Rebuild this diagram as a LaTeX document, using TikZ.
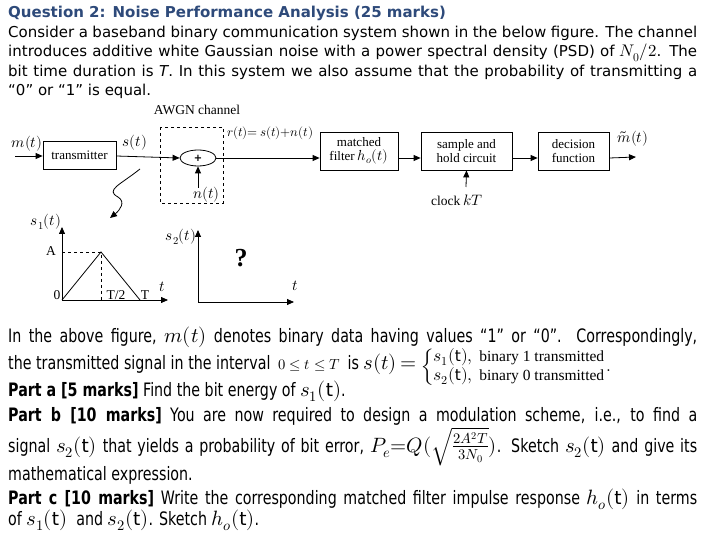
\documentclass[tikz,border=0pt]{standalone}
\usepackage{amsmath}
\usepackage{fontspec}
\usepackage{unicode-math}
\setmainfont{DejaVu Sans}
\setmathfont{Latin Modern Math}[Scale=1.12]
\newfontfamily\tnr{Liberation Serif}
\newfontfamily\cond[FakeStretch=0.77]{DejaVu Sans}
\usetikzlibrary{arrows.meta,shapes.geometric}
\definecolor{qblue}{HTML}{2E4A7A}
\begin{document}
\begin{tikzpicture}[x=1pt,y=-1pt,
  txt/.style={anchor=base west,inner sep=0pt,font=\fontsize{15}{16}\selectfont},
  ctxt/.style={anchor=base west,inner sep=0pt,font=\cond\fontsize{18.5}{19}\selectfont},
  blk/.style={draw,thick,minimum height=28pt,align=center,font=\tnr\fontsize{13}{13.5}\selectfont,inner sep=2pt},
  lab/.style={inner sep=0pt,font=\tnr\fontsize{13.5}{14}\selectfont},
  arr/.style={thick,-{Triangle[length=7pt,width=6pt]}},
  ln/.style={thick}]
\useasboundingbox (0,0) rectangle (705,540);
\fill[white] (0,0) rectangle (705,540);
% top text
\node[txt,font=\bfseries\fontsize{15}{16}\selectfont,text=qblue] (title) at (8,18) {Question 2: Noise Performance Analysis (25 marks)};
\node[txt] (l1) at (8,38) {\makebox[689pt][s]{Consider a baseband binary communication system shown in the below figure. The channel}};
\node[txt] (l2) at (8,57) {\makebox[689pt][s]{introduces additive white Gaussian noise with a power spectral density (PSD) of $N_0/2$. The}};
\node[txt] (l3) at (8,77) {\makebox[689pt][s]{bit time duration is \textit{T}. In this system we also assume that the probability of transmitting a}};
\node[txt] (l4) at (8,96) {“0” or “1” is equal.};
% block diagram
\node[lab] (awgn) at (197,110) {AWGN channel};
\draw[dashed,thick] (160,127) rectangle (223,203);
\coordinate (min) at (15,156);
\node[blk,minimum width=73pt] (tx) at (79.5,155) {transmitter};
\node[lab] (mt) at (27,144) {$m(t)$};
\node[lab] (st) at (135,143) {$s(t)$};
\node[draw,thick,ellipse,minimum width=36pt,minimum height=16pt,inner sep=0pt] (sum) at (198,158) {\textbf{+}};
\coordinate (nin) at (198,188);
\node[lab,anchor=west] (nt) at (193,195) {$n(t)$};
\node[lab,anchor=west,font=\tnr\fontsize{11.5}{12}\selectfont] (rt) at (227,133) {$r(t){=}\,s(t){+}n(t)$};
\node[blk,minimum width=78pt,minimum height=38pt] (mf) at (359,151) {matched\\filter $h_o(t)$};
\node[blk,minimum width=91pt,minimum height=38pt] (sh) at (466.5,151) {sample and\\hold circuit};
\node[blk,minimum width=71pt,minimum height=38pt] (dec) at (573.5,151) {decision\\function};
\coordinate (out) at (636,157);
\node[lab] (mh) at (633,139) {$\tilde{m}(t)$};
\coordinate (clk) at (466,187);
\node[lab] (ck) at (457,200) {clock $kT$};
\draw[arr] (min) -- (tx.west |- min);
\draw[arr] (tx.east |- min) -- (sum.west);
\draw[arr] (nin) -- (sum.south);
\draw[arr] (sum.east) -- (sum.east -| mf.west);
\draw[arr] (mf.east |- sum.east) -- (sh.west |- sum.east);
\draw[arr] (sh.east |- sum.east) -- (dec.west |- sum.east);
\draw[arr] (dec.east |- sum.east) -- (out);
\draw[arr] (clk) -- (sh.south);
% squiggle
\coordinate (sq1) at (140,169);
\coordinate (sq2) at (110,218);
\draw[arr] (sq1) .. controls (120,185) and (105,190) .. (118,197) .. controls (126,202) and (120,210) .. (sq2);
% s1 plot
\coordinate (o1) at (62,300);
\coordinate (y1) at (62,227);
\coordinate (x1) at (168,300);
\draw[arr] (o1) -- (y1);
\draw[arr] (o1) -- (x1);
\draw[ln] (o1) -- (101,252) -- (140,300);
\draw[dashed,thick] (62,252) -- (101,252) -- (101,300);
\node[lab] (s1l) at (46,222) {$s_1(t)$};
\node[lab] (al) at (51,251) {A};
\node[lab] (zl) at (57,295) {0};
\node[lab] (t2l) at (116,295) {T/2};
\node[lab] (tl) at (145,295) {T};
\node[lab] (txl) at (162,287) {$t$};
% s2 plot
\coordinate (o2) at (198,302);
\draw[arr] (o2) -- (198,230);
\draw[arr] (o2) -- (294,302);
\node[lab] (s2l) at (181,237) {$s_2(t)$};
\node[inner sep=0pt,font=\tnr\bfseries\fontsize{26}{26}\selectfont] (q) at (241,258) {?};
\node[lab] (tx2) at (295,286) {$t$};
% bottom text
\node[ctxt] (b1) at (8,343) {\makebox[689pt][s]{In the above figure, $m(t)$ denotes binary data having values “1” or “0”. Correspondingly,}};
\node[ctxt] (b2) at (8,370) {the transmitted signal in the interval \,{\normalfont\fontsize{13}{14}\selectfont$0\le t\le T$}\, is $s(t)\,{=}$};
\node[anchor=west,inner sep=0pt,font=\tnr\fontsize{15.5}{16}\selectfont] (cs) at (421,367) {$\begin{cases}s_1(\mathrm{t}),\ \text{binary 1 transmitted}\\ s_2(\mathrm{t}),\ \text{binary 0 transmitted}\end{cases}\!\!\!\!\!\!.$};
\node[ctxt] (b3) at (8,396) {\textbf{Part a [5 marks]} Find the bit energy of $s_1(\mathrm{t})$.};
\node[ctxt] (b4) at (8,421) {\makebox[689pt][s]{\textbf{Part b [10 marks]} You are now required to design a modulation scheme, i.e., to find a}};
\node[ctxt] (b5) at (8,452) {\makebox[689pt][s]{signal $s_2(\mathrm{t})$ that yields a probability of bit error, $P_e{=}Q(\sqrt{\frac{2A^2T}{3N_0}})$. Sketch $s_2(\mathrm{t})$ and give its}};
\node[ctxt] (b6) at (8,480) {mathematical expression.};
\node[ctxt] (b7) at (8,504) {\makebox[689pt][s]{\textbf{Part c [10 marks]} Write the corresponding matched filter impulse response $h_o(\mathrm{t})$ in terms}};
\node[ctxt] (b8) at (8,525) {of $s_1(\mathrm{t})$\ \ and $s_2(\mathrm{t})$. Sketch $h_o(\mathrm{t})$.};
\end{tikzpicture}
\end{document}
